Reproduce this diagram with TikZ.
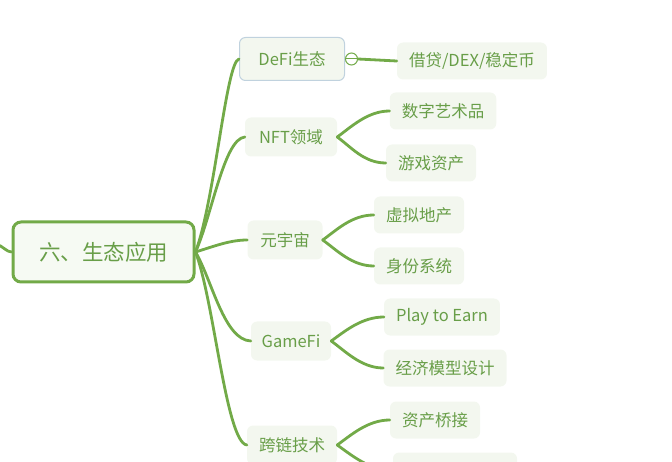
\documentclass[tikz,border=0pt]{standalone}
\usepackage{fontspec}
\newfontfamily\cjk{Noto Sans CJK SC}
\definecolor{linegreen}{RGB}{114,170,72}
\definecolor{txtgreen}{RGB}{104,158,72}
\definecolor{leaffill}{RGB}{243,247,239}
\definecolor{rootfill}{RGB}{246,250,243}
\definecolor{selborder}{RGB}{192,210,222}
\begin{document}
\begin{tikzpicture}[
		x=1pt, y=-1pt,
		every node/.style={font=\cjk\fontsize{16.5}{20}\selectfont, text=txtgreen},
		rootbox/.style={rectangle, rounded corners=8pt, draw=linegreen, line width=3pt, fill=rootfill, minimum width=181pt, minimum height=60pt, font=\cjk\fontsize{21.5}{26}\selectfont},
		branch/.style={rectangle, rounded corners=6pt, fill=leaffill, minimum height=39pt, inner xsep=10pt},
		leaf/.style={rectangle, rounded corners=6pt, fill=leaffill, minimum height=37pt, inner xsep=12pt},
		link/.style={draw=linegreen, line width=2.8pt, line cap=round}
	]
		\useasboundingbox (0,0) rectangle (672,462);
		\clip (0,0) rectangle (672,462);

		% Root
		\node[rootbox] (root) at (103.5,252) {六、生态应用};
		\coordinate (parent) at (-4,244);
		\draw[link] (parent) .. controls +(7,2) and +(-5,0) .. (root.west);

		% Branches
		\node[branch, draw=selborder, line width=1pt, minimum width=105pt, minimum height=43pt] (defi) at (292,59) {DeFi生态};
		\node[branch, minimum width=92pt] (nft) at (291,137) {NFT领域};
		\node[branch, minimum width=75pt] (meta) at (285,240) {元宇宙};
		\node[branch, minimum width=80pt] (gamefi) at (291,341) {GameFi};
		\node[branch, minimum width=90pt] (cross) at (292,445) {跨链技术};

		\draw[link] (root.east) .. controls (215,200) and (226,62) .. (defi.west);
		\draw[link] (root.east) .. controls (212,215) and (224,139) .. (nft.west);
		\draw[link] (root.east) .. controls (215,246) and (230,240) .. (meta.west);
		\draw[link] (root.east) .. controls (212,280) and (224,340) .. (gamefi.west);
		\draw[link] (root.east) .. controls (214,300) and (226,442) .. (cross.west);

		% Leaves
		\node[leaf] (lend) at (472,61) {借贷/DEX/稳定币};
		\node[leaf] (art) at (443,111) {数字艺术品};
		\node[leaf] (gameasset) at (431,163) {游戏资产};
		\node[leaf] (land) at (419,215) {虚拟地产};
		\node[leaf] (ident) at (419,266) {身份系统};
		\node[leaf] (p2e) at (442,317) {Play to Earn};
		\node[leaf] (econ) at (445,368) {经济模型设计};
		\node[leaf] (bridge) at (435,420) {资产桥接};
		\node[leaf, minimum width=124pt] (cutleaf) at (455,471) {};

		% DeFi collapse mark
		\node[circle, draw=linegreen, line width=1pt, inner sep=0pt, minimum size=12pt, anchor=west] (fold) at (defi.east) {};
		\draw[linegreen, line width=1pt] (fold.west) -- (fold.east);
		\draw[link] (fold.east) -- (lend.west);

		% Branch to leaf
		\draw[link] (nft.east) .. controls +(14,-10) and +(-22,0) .. (art.west);
		\draw[link] (nft.east) .. controls +(14,10) and +(-22,0) .. (gameasset.west);
		\draw[link] (meta.east) .. controls +(14,-10) and +(-22,0) .. (land.west);
		\draw[link] (meta.east) .. controls +(14,10) and +(-22,0) .. (ident.west);
		\draw[link] (gamefi.east) .. controls +(14,-10) and +(-22,0) .. (p2e.west);
		\draw[link] (gamefi.east) .. controls +(14,10) and +(-22,0) .. (econ.west);
		\draw[link] (cross.east) .. controls +(14,-10) and +(-22,0) .. (bridge.west);
		\draw[link] (cross.east) .. controls +(14,10) and +(-22,0) .. (cutleaf.west);
	\end{tikzpicture}
\end{document}
